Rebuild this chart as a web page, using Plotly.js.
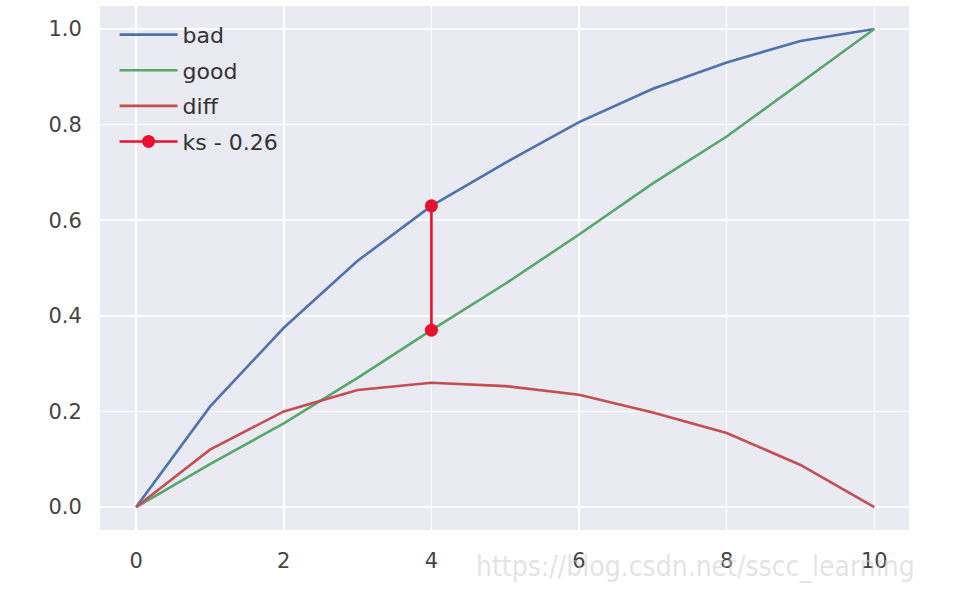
<!DOCTYPE html>
<html>
<head>
<meta charset="utf-8">
<script src="https://cdn.plot.ly/plotly-3.0.1.min.js"></script>
<style>html,body{margin:0;padding:0;background:#fff;}#chart{width:960px;height:600px;}</style>
</head>
<body>
<div id="chart"></div>
<script>
const xs = [0, 1, 2, 3, 4, 5, 6, 7, 8, 9, 10];
const bad = [0, 0.21, 0.375, 0.515, 0.63, 0.72, 0.805, 0.875, 0.93, 0.975, 1.0];
const good = [0, 0.09, 0.175, 0.27, 0.37, 0.467, 0.57, 0.677, 0.775, 0.887, 1.0];
const diff = [0, 0.12, 0.20, 0.245, 0.26, 0.253, 0.235, 0.198, 0.155, 0.088, 0];
const ksX = [4, 4];
const ksY = [0.37, 0.63];
const ksLabel = "ks - 0.26";
const xTicks = [0, 2, 4, 6, 8, 10];
const yTicks = [0.0, 0.2, 0.4, 0.6, 0.8, 1.0];
const watermark = "https://blog.csdn.net/sscc_learning";

const traces = [
  {x: xs, y: bad, name: "bad", legendgroup: "a", mode: "lines", line: {color: "#4C72B0", width: 2.6}},
  {x: xs, y: good, name: "good", legendgroup: "b", mode: "lines", line: {color: "#55A868", width: 2.6}},
  {x: xs, y: diff, name: "diff", legendgroup: "c", mode: "lines", line: {color: "#C44E52", width: 2.6}},
  {x: ksX, y: ksY, name: ksLabel, legendgroup: "d", mode: "lines+markers", line: {color: "#E8112D", width: 2.6}, marker: {color: "#E8112D", size: 13}}
];

const layout = {
  width: 960, height: 600,
  margin: {l: 100, r: 51, t: 6, b: 70},
  paper_bgcolor: "#ffffff",
  plot_bgcolor: "#EAEAF2",
  font: {family: "DejaVu Sans, sans-serif", size: 21, color: "#444444"},
  xaxis: {
    range: [-0.49, 10.47], tickvals: xTicks, ticktext: xTicks.map(String),
    showgrid: true, gridcolor: "#ffffff", gridwidth: 1.6, zeroline: false, showline: false,
    ticks: "outside", ticklen: 12, tickcolor: "rgba(0,0,0,0)", tickfont: {size: 21, color: "#444444"}
  },
  yaxis: {
    range: [-0.048, 1.048], tickvals: yTicks, ticktext: yTicks.map(v => v.toFixed(1)),
    showgrid: true, gridcolor: "#ffffff", gridwidth: 1.6, zeroline: false, showline: false,
    ticks: "outside", ticklen: 13, tickcolor: "rgba(0,0,0,0)", tickfont: {size: 21, color: "#444444"}
  },
  showlegend: true,
  legend: {
    x: 0.018, y: 0.985, xanchor: "left", yanchor: "top",
    bgcolor: "rgba(0,0,0,0)", borderwidth: 0,
    font: {size: 22, color: "#333333"}, itemwidth: 58, tracegroupgap: 4
  },
  annotations: [{
    text: watermark, xref: "paper", yref: "paper", x: 1.01, y: -0.035,
    xanchor: "right", yanchor: "top", showarrow: false,
    font: {size: 28, color: "rgba(200,200,200,0.5)", family: "Liberation Sans Narrow, DejaVu Sans Condensed, sans-serif"}
  }]
};

Plotly.newPlot("chart", traces, layout, {displayModeBar: false, staticPlot: true});
</script>
</body>
</html>
